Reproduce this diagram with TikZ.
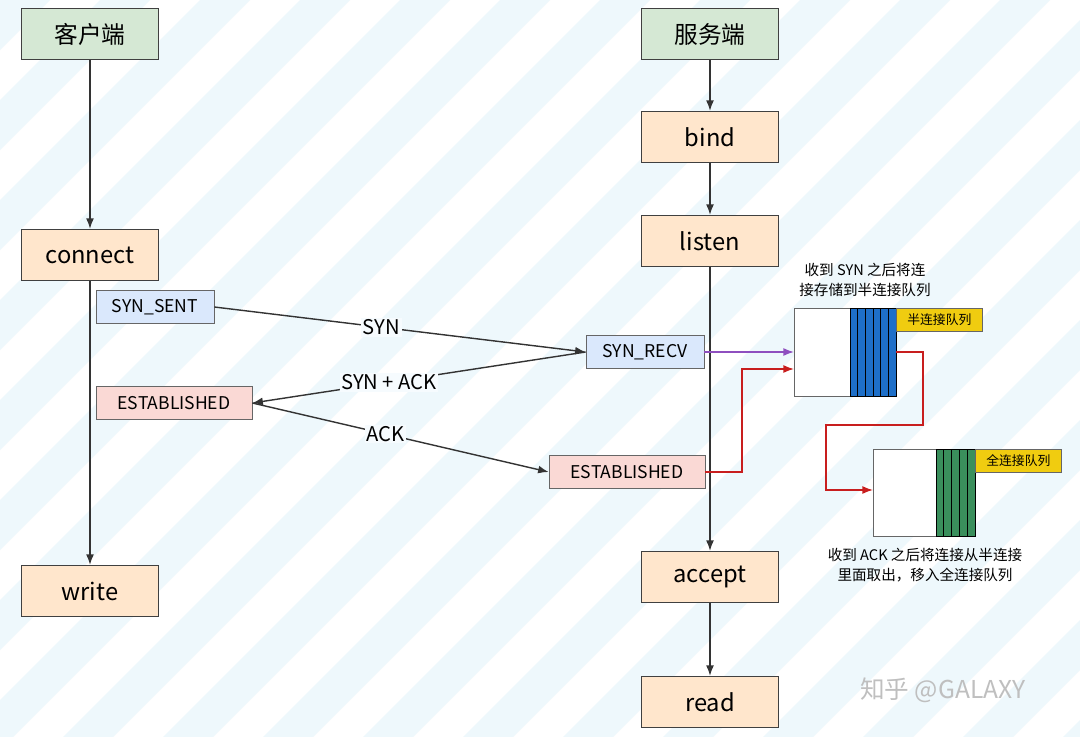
\documentclass[tikz,border=0pt]{standalone}
\usepackage{fontspec}
\setmainfont{Noto Sans CJK SC}
\usetikzlibrary{arrows.meta}
\definecolor{boxgreen}{HTML}{D5E8D4}
\definecolor{boxorange}{HTML}{FFE6CC}
\definecolor{boxblue}{HTML}{DAE8FC}
\definecolor{boxred}{HTML}{FAD9D5}
\definecolor{qblue}{HTML}{1E6FC8}
\definecolor{qgreen}{HTML}{3A8F5C}
\definecolor{qyellow}{HTML}{F0CC10}
\definecolor{stripe}{HTML}{EEF8FC}
\definecolor{lineP}{HTML}{8E4FBF}
\definecolor{lineR}{HTML}{C81E1E}
\tikzset{
	big/.style={draw=black!75, minimum width=2.74cm, minimum height=1.03cm, font=\fontsize{13.5}{15}\selectfont},
	state/.style={draw=black!60, minimum height=0.66cm, inner xsep=4pt, font=\fontsize{10}{11}\selectfont},
	flow/.style={thick, draw=black!80, -{Latex[length=6pt]}},
	lbl/.style={fill=stripe!50, inner sep=1pt, font=\fontsize{11.5}{12}\selectfont},
	note/.style={align=center, font=\fontsize{8.3}{11}\selectfont},
	qtag/.style={draw=black!60, fill=qyellow, anchor=north west, minimum width=1.72cm, minimum height=0.46cm, inner sep=0pt, font=\fontsize{7.3}{8}\selectfont}
}
\begin{document}
\begin{tikzpicture}[x=0.02cm,y=-0.02cm]
	% background
		\useasboundingbox (0,0) rectangle (1080,737);
		\begin{scope}
			\clip (0,0) rectangle (1080,737);
			\fill[white] (0,0) rectangle (1080,737);
			\foreach \s in {0,100,...,1900}
				\fill[stripe] (\s,0) -- ++(50,0) -- ++(-760,760) -- ++(-50,0) -- cycle;
		\end{scope}
	% client column
		\node[big, fill=boxgreen] (client) at (90,34) {客户端};
		\node[big, fill=boxorange] (connect) at (90,255) {connect};
		\node[big, fill=boxorange] (write) at (90,591) {write};
		\draw[flow] (client) -- (connect);
		\draw[flow] (connect) -- (write);
	% server column
		\node[big, fill=boxgreen] (server) at (710,34) {服务端};
		\node[big, fill=boxorange] (bind) at (710,137) {bind};
		\node[big, fill=boxorange] (listen) at (710,241) {listen};
		\node[big, fill=boxorange] (accept) at (710,577) {accept};
		\node[big, fill=boxorange] (read) at (710,702) {read};
		\draw[flow] (server) -- (bind);
		\draw[flow] (bind) -- (listen);
		\draw[flow] (listen) -- (accept);
		\draw[flow] (accept) -- (read);
	% handshake states
		\node[state, fill=boxblue, minimum width=2.36cm] (sent) at (155,307) {SYN\_SENT};
		\node[state, fill=boxblue, minimum width=2.36cm] (recv) at (645,352) {SYN\_RECV};
		\node[state, fill=boxred, minimum width=3.12cm] (estc) at (174,403) {ESTABLISHED};
		\node[state, fill=boxred, minimum width=3.12cm] (ests) at (627,472) {ESTABLISHED};
		\draw[flow] (sent.east) -- (recv.west) node[lbl, pos=0.45] {SYN};
		\draw[flow] (recv.west) -- (estc.east) node[lbl, pos=0.59] {SYN + ACK};
		\draw[flow] (estc.east) -- (ests.west) node[lbl, pos=0.45] {ACK};
	% half queue
		\node[draw=black!60, fill=white, minimum width=1.12cm, minimum height=1.76cm, inner sep=0pt, anchor=north west] (halfq) at (794,308) {};
		\foreach \i in {0,...,5}
			\draw[black, fill=qblue] (850+\i*7.67,308) rectangle ++(7.67,88);
		\node[qtag] (halftag) at (896,308) {半连接队列};
		\coordinate (halfout) at (896,352);
		\node[note] (note1) at (865,280) {收到 SYN 之后将连\\接存储到半连接队列};
	% full queue
		\node[draw=black!60, fill=white, minimum width=1.26cm, minimum height=1.74cm, inner sep=0pt, anchor=north west] (fullq) at (873,449) {};
		\foreach \i in {0,...,4}
			\draw[black, fill=qgreen] (936+\i*7.8,449) rectangle ++(7.8,87);
		\node[qtag] (fulltag) at (975,449) {全连接队列};
		\node[note] (note2) at (925,565) {收到 ACK 之后将连接从半连接\\里面取出，移入全连接队列};
	% queue links
		\draw[thick, lineP, -{Latex[length=6pt]}] (recv.east) -- (halfq.west |- recv.east);
		\draw[thick, lineR, -{Latex[length=6pt]}] (ests.east) -- (742,472) -- (742,369) -- (halfq.west |- 0,369);
		\draw[thick, lineR, -{Latex[length=6pt]}] (halfout) -- (923,352) -- (923,425) -- (826,425) -- (826,490) -- (fullq.west |- 0,490);
	% site mark
		\node[text=black!25, font=\fontsize{14}{16}\selectfont] (mark) at (943,690) {知乎 @GALAXY};
\end{tikzpicture}
\end{document}
